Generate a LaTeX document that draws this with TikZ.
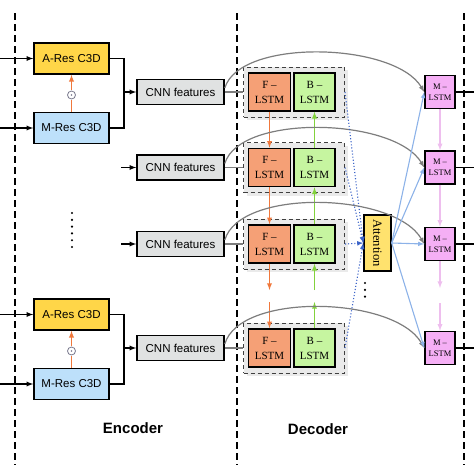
\documentclass[tikz,border=0pt]{standalone}
\usepackage{fontspec}
\setmainfont{Liberation Sans}
\newfontfamily\lstmfont{Liberation Serif}
\usetikzlibrary{arrows}

\definecolor{aresyellow}{RGB}{255,214,72}
\definecolor{mresblue}{RGB}{189,224,250}
\definecolor{cnngray}{RGB}{224,226,226}
\definecolor{forange}{RGB}{245,160,118}
\definecolor{bgreen}{RGB}{198,245,160}
\definecolor{mpink}{RGB}{245,175,245}
\definecolor{attyellow}{RGB}{255,226,110}
\definecolor{grpgray}{RGB}{234,234,234}
\definecolor{oline}{RGB}{240,120,60}
\definecolor{grline}{RGB}{130,210,60}
\definecolor{pline}{RGB}{238,190,238}
\definecolor{bline}{RGB}{140,178,232}
\definecolor{bdotc}{RGB}{60,100,200}
\definecolor{arcgray}{RGB}{125,125,125}
\definecolor{odotgray}{RGB}{120,120,140}

\tikzset{
  sepline/.style={line width=2pt, dash pattern=on 7pt off 4pt},
  encbox/.style={draw, line width=1.6pt, minimum width=75pt, minimum height=31pt, inner sep=0pt, font=\fontsize{11.5}{13}\selectfont},
  ares/.style={encbox, fill=aresyellow},
  mres/.style={encbox, fill=mresblue},
  odotn/.style={circle, draw=odotgray, line width=0.8pt, minimum size=8pt, inner sep=0pt, outer sep=1pt,
    path picture={\fill[odotgray] (path picture bounding box.center) circle (0.9pt);}},
  cnnbox/.style={draw, line width=1.6pt, fill=cnngray, minimum width=87pt, minimum height=25pt, inner sep=0pt, font=\fontsize{11.5}{13}\selectfont},
  grpbox/.style={draw=black!75, line width=1pt, dash pattern=on 4pt off 3pt, fill=grpgray, minimum width=101pt, minimum height=50pt,
    preaction={fill=grpgray, draw=none, transform canvas={shift={(3pt,-3pt)}}}},
  lstmbox/.style={draw, line width=1.6pt, minimum height=38pt, inner sep=0pt, align=center, font=\lstmfont\fontsize{11}{15}\selectfont},
  flstm/.style={lstmbox, fill=forange, minimum width=42pt},
  blstm/.style={lstmbox, fill=bgreen, minimum width=41pt},
  mlstm/.style={draw, line width=1.4pt, fill=mpink, minimum width=30pt, minimum height=33pt, inner sep=0pt, align=center, font=\lstmfont\fontsize{8.5}{11}\selectfont},
  attbox/.style={draw, line width=1.4pt, fill=attyellow, minimum width=27pt, minimum height=56pt, inner sep=0pt, font=\lstmfont\fontsize{12.5}{13}\selectfont},
  blk/.style={line width=1.3pt},
  oarr/.style={->, line width=1.3pt, oline},
  garr/.style={->, line width=1.3pt, grline},
  parr/.style={->, line width=1.3pt, pline},
  barr/.style={->, line width=1.1pt, bline},
  bdot/.style={->, line width=1.1pt, bdotc, dotted},
  gline/.style={line width=1.2pt, arcgray},
  garc/.style={->, line width=1.2pt, arcgray},
  dotline/.style={line width=2.4pt, line cap=round, dash pattern=on 0pt off 6.8pt},
  lbl/.style={font=\bfseries\fontsize{15}{18}\selectfont}
}

\begin{document}
\begin{tikzpicture}[x=1pt,y=-1pt,>=latex]
\useasboundingbox (0,0) rectangle (474,474);
\coordinate (s1t) at (15,13); \coordinate (s1b) at (15,465);
\coordinate (s2t) at (237,13); \coordinate (s2b) at (237,465);
\coordinate (s3t) at (464,13); \coordinate (s3b) at (464,465);
\path[sepline] (s1t) edge (s1b) (s2t) edge (s2b) (s3t) edge (s3b);

\node[ares] (a1) at (71.5,58.5) {A-Res C3D};
\node[mres] (m1) at (71.5,128) {M-Res C3D};
\node[odotn] (o1) at (71.5,95) {};
\node[ares] (a2) at (71.5,314.5) {A-Res C3D};
\node[mres] (m2) at (71.5,384) {M-Res C3D};
\node[odotn] (o2) at (71.5,351) {};
\node[cnnbox] (c1) at (180.5,92) {CNN features};
\node[cnnbox] (c2) at (180.5,167.5) {CNN features};
\node[cnnbox] (c3) at (180.5,244) {CNN features};
\node[cnnbox] (c4) at (180.5,348) {CNN features};

\coordinate (ia1) at (0,58.5); \coordinate (im1) at (0,128);
\coordinate (ia2) at (0,314.5); \coordinate (im2) at (0,384);
\coordinate (ic2) at (121,167.5); \coordinate (ic3) at (121,244);
\coordinate (j1) at (124,92); \coordinate (j2) at (124,348);
\path[->,blk] (ia1) edge (a1) (im1) edge (m1) (ia2) edge (a2) (im2) edge (m2)
  (ic2) edge (c2) (ic3) edge (c3) (j1) edge (c1) (j2) edge (c4);
\draw[blk] (a1.east) -| (j1) |- (m1.east);
\draw[blk] (a2.east) -| (j2) |- (m2.east);
\path[oarr] (m1) edge[-] (o1) (o1) edge (a1) (m2) edge[-] (o2) (o2) edge (a2);
\coordinate (dt1) at (72,213); \coordinate (dt2) at (72,247);
\draw[dotline] (dt1) -- (dt2);

\node[grpbox] (g1) at (294,92) {};
\node[grpbox] (g2) at (294,167.5) {};
\node[grpbox] (g3) at (294,244) {};
\node[grpbox] (g4) at (294,348) {};
\node[flstm] (f1) at (269.5,92) {F –\\LSTM};
\node[blstm] (bl1) at (314.5,92) {B –\\LSTM};
\node[flstm] (f2) at (269.5,167.5) {F –\\LSTM};
\node[blstm] (bl2) at (314.5,167.5) {B –\\LSTM};
\node[flstm] (f3) at (269.5,244) {F –\\LSTM};
\node[blstm] (bl3) at (314.5,244) {B –\\LSTM};
\node[flstm] (f4) at (269.5,348) {F –\\LSTM};
\node[blstm] (bl4) at (314.5,348) {B –\\LSTM};
\node[attbox] (att) at (377.5,243) {\rotatebox{-90}{Attention}};
\node[mlstm] (ml1) at (440,92) {M –\\LSTM};
\node[mlstm] (ml2) at (440,167.5) {M –\\LSTM};
\node[mlstm] (ml3) at (440,244) {M –\\LSTM};
\node[mlstm] (ml4) at (440,348) {M –\\LSTM};
\coordinate (ad1) at (365,283); \coordinate (ad2) at (365,297);
\draw[dotline] (ad1) -- (ad2);

\coordinate (fa) at (269.5,290); \coordinate (fb) at (269.5,302);
\coordinate (ba) at (314.5,290); \coordinate (bb) at (314.5,302);
\coordinate (ma) at (440,288); \coordinate (mb) at (440,303);
\path[oarr] (f1) edge (f2) (f2) edge (f3) (f3) edge (fa) (fb) edge (f4);
\path[garr] (bl2) edge (bl1) (bl3) edge (bl2) (ba) edge (bl3) (bl4) edge (bb);
\path[parr] (ml1) edge (ml2) (ml2) edge (ml3) (ml3) edge (ma) (mb) edge (ml4);

\path[gline] (c1) edge (g1) (c2) edge (g2) (c3) edge (g3) (c4) edge (g4);
\draw[garc] ([yshift=4pt]c1.east) .. controls +(15,-50) and +(-30,-50) .. (ml1.west);
\draw[garc] ([yshift=4pt]c2.east) .. controls +(15,-50) and +(-30,-50) .. (ml2.west);
\draw[garc] ([yshift=4pt]c3.east) .. controls +(15,-52) and +(-30,-52) .. (ml3.west);
\draw[garc] ([yshift=4pt]c4.east) .. controls +(15,-52) and +(-30,-52) .. (ml4.west);

\path[bdot] (g1.east) edge (att.west) (g2.east) edge (att.west) (g3.east) edge (att.west) (g4.east) edge (att.west);
\path[barr] (att.east) edge (ml1.west) (att.east) edge (ml2.west) (att.east) edge (ml3.west) (att.east) edge (ml4.west);

\coordinate (q1) at (474,92); \coordinate (q2) at (474,167.5);
\coordinate (q3) at (474,244); \coordinate (q4) at (474,348);
\path[blk] (ml1) edge (q1) (ml2) edge (q2) (ml3) edge (q3) (ml4) edge (q4);

\node[lbl] (enc) at (133,428) {Encoder};
\node[lbl] (dec) at (318,429) {Decoder};
\end{tikzpicture}
\end{document}
